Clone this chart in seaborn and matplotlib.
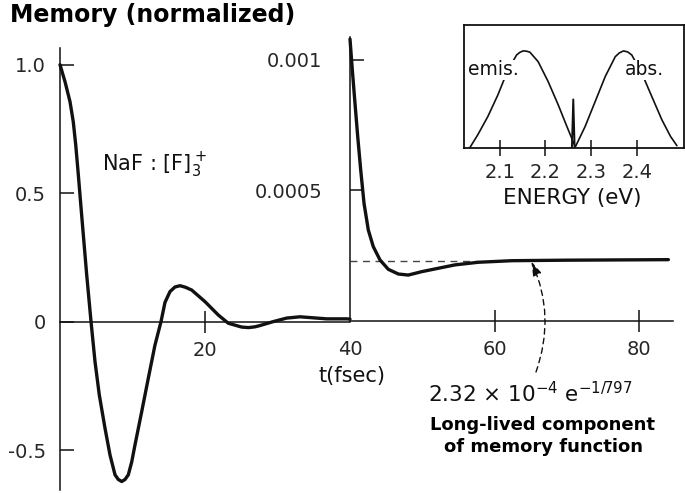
import matplotlib
matplotlib.use('Agg')
import matplotlib.pyplot as plt
import seaborn as sns

# memory function, short-time part (normalized), t in fsec
t_short = [0, 0.69, 1.38, 1.83, 2.17, 2.52, 2.86, 3.21, 3.68, 4.28, 4.83,
           5.42, 6.21, 6.9, 7.59, 8.04, 8.51, 8.97, 9.42, 9.89, 10.34, 11.27,
           12.18, 13.1, 13.93, 14.48, 15.17, 15.86, 16.55, 17.3, 18.17, 20.0,
           21.83, 23.21, 25.06, 26.0, 26.9, 27.59, 29.38, 31.27, 33.1, 35.41,
           36.79, 39.54, 40]
mem_short = [1.0, 0.934, 0.856, 0.778, 0.688, 0.574, 0.458, 0.34, 0.183,
             0.0, -0.156, -0.285, -0.415, -0.519, -0.596, -0.614, -0.622,
             -0.614, -0.596, -0.546, -0.48, -0.35, -0.22, -0.091, 0.0, 0.075,
             0.117, 0.135, 0.14, 0.134, 0.123, 0.078, 0.026, -0.006, -0.021,
             -0.023, -0.020, -0.015, 0.0, 0.014, 0.019, 0.014, 0.011, 0.011,
             0.010]

# long-time part, t >= 40 fsec (expanded scale)
t_long = [40, 40.32, 40.69, 41.07, 41.48, 41.94, 42.53, 43.22, 44.15, 45.3,
          46.69, 48.07, 49.92, 52.22, 54.53, 57.76, 62.38, 70, 84.06]
mem_long = [1.08e-3, 0.962e-3, 0.834e-3, 0.706e-3, 0.579e-3, 0.451e-3,
            0.349e-3, 0.285e-3, 0.234e-3, 0.198e-3, 0.180e-3, 0.176e-3,
            0.189e-3, 0.202e-3, 0.215e-3, 0.225e-3, 0.231e-3, 0.233e-3,
            0.235e-3]
tail_value = 2.28e-4
tail_t = [40, 57.7]

# inset: emission / absorption bands
energy_emis = [2.034, 2.052, 2.074, 2.096, 2.118, 2.137, 2.144, 2.151, 2.158,
               2.166, 2.184, 2.206, 2.228, 2.247, 2.265]
int_emis = [0.0, 0.137, 0.325, 0.548, 0.804, 0.959, 0.985, 1.0, 0.998, 0.987,
            0.89, 0.684, 0.445, 0.222, 0.016]
energy_abs = [2.266, 2.287, 2.309, 2.331, 2.353, 2.362, 2.371, 2.380, 2.389,
              2.411, 2.433, 2.455, 2.474, 2.488]
int_abs = [0.016, 0.222, 0.479, 0.736, 0.941, 0.98, 1.0, 0.99, 0.959, 0.771,
           0.53, 0.291, 0.119, 0.024]
energy_line = [2.258, 2.261, 2.264]
int_line = [0.0, 0.50, 0.0]

left_ticks = [1.0, 0.5, 0, -0.5]
left_ticklabels = ['1.0', '0.5', '0', '-0.5']
right_ticks = [0.001, 0.0005]
right_ticklabels = ['0.001', '0.0005']
t_ticks_short = [20]
t_ticks_long = [40, 60, 80]
energy_ticks = [2.1, 2.2, 2.3, 2.4]

sns.set_theme(style='white')
plt.rcParams['font.family'] = ['DejaVu Sans']

W, H = 685, 493
ink = '#111111'
fig = plt.figure(figsize=(W / 100, H / 100), dpi=100)


def box(x0, y0, x1, y1):
    # pixel box (top-left origin) -> figure fraction rect
    return [x0 / W, 1 - y1 / H, (x1 - x0) / W, (y1 - y0) / H]


ax = fig.add_axes(box(60, 48, 350, 490))
ax2 = fig.add_axes(box(350, 37, 673, 321))
axin = fig.add_axes(box(464, 25, 684, 148))
for a in (ax, ax2):
    a.set_facecolor('none')

# left panel
sns.lineplot(x=t_short, y=mem_short, ax=ax, color=ink, lw=2.4, clip_on=False)
ax.set_xlim(0, 40)
ax.set_ylim(-0.655, 1.065)
ax.spines['top'].set_visible(False)
ax.spines['right'].set_visible(False)
ax.spines['bottom'].set_position(('data', 0))
for s in ('left', 'bottom'):
    ax.spines[s].set_linewidth(1.1)
    ax.spines[s].set_color(ink)
ax.set_yticks(left_ticks, left_ticklabels)
ax.set_xticks(t_ticks_short, ['20'])
ax.tick_params(axis='y', left=True, direction='in', length=10, width=1.1,
               pad=10, labelsize=14, color=ink)
ax.tick_params(axis='x', bottom=True, direction='inout', length=16, width=1.1,
               pad=6, labelsize=14, color=ink)
ax.set_xlabel('')
ax.set_ylabel('')

# right panel
ax2.plot(tail_t, [tail_value] * 2, color='#444444', lw=1.0,
         linestyle=(0, (5, 4)), zorder=1)
sns.lineplot(x=t_long, y=mem_long, ax=ax2, color=ink, lw=2.4, clip_on=False,
             zorder=2)
ax2.set_xlim(40, 84.7)
ax2.set_ylim(0, 0.001088)
ax2.spines['top'].set_visible(False)
ax2.spines['right'].set_visible(False)
for s in ('left', 'bottom'):
    ax2.spines[s].set_linewidth(1.1)
    ax2.spines[s].set_color(ink)
ax2.set_yticks(right_ticks, right_ticklabels)
ax2.set_xticks(t_ticks_long, ['40', '60', '80'])
ax2.tick_params(axis='y', left=True, direction='in', length=10, width=1.1,
                pad=20, labelsize=14, color=ink)
ax2.tick_params(axis='x', bottom=True, direction='inout', length=16, width=1.1,
                pad=6, labelsize=14, color=ink)
ax2.xaxis.get_major_ticks()[0].tick1line.set_visible(False)
ax2.set_xlabel('')
ax2.set_ylabel('')

# inset
sns.lineplot(x=energy_emis, y=int_emis, ax=axin, color=ink, lw=1.2)
sns.lineplot(x=energy_abs, y=int_abs, ax=axin, color=ink, lw=1.2)
sns.lineplot(x=energy_line, y=int_line, ax=axin, color=ink, lw=1.4)
axin.set_xlim(2.0217, 2.5035)
axin.set_ylim(0, 1.267)
for s in axin.spines.values():
    s.set_linewidth(1.3)
    s.set_color(ink)
axin.set_xticks(energy_ticks, ['2.1', '2.2', '2.3', '2.4'])
axin.set_yticks([])
axin.tick_params(axis='x', bottom=True, direction='inout', length=12,
                 width=1.1, pad=5, labelsize=14, color=ink)
axin.set_xlabel('')
axin.set_ylabel('')
axin.text(0.017, 0.635, 'emis.', transform=axin.transAxes, fontsize=13.5,
          ha='left', va='center', color=ink,
          bbox=dict(facecolor='white', edgecolor='none', pad=0.5))
axin.text(0.731, 0.635, 'abs.', transform=axin.transAxes, fontsize=13.5,
          ha='left', va='center', color=ink,
          bbox=dict(facecolor='white', edgecolor='none', pad=0.5))

# text
fig.text(10 / W, 1 - 22 / H, 'Memory (normalized)', fontsize=17,
         fontweight='bold', ha='left', va='baseline', color='black')
fig.text(102 / W, 1 - 165 / H, r'NaF : $[\mathrm{F}]_3^+$', fontsize=15,
         ha='left', va='center', color=ink)
fig.text(352 / W, 1 - 376 / H, 't(fsec)', fontsize=15, ha='center',
         va='center', color=ink)
fig.text(572 / W, 1 - 198 / H, 'ENERGY (eV)', fontsize=15.5, ha='center',
         va='center', color=ink)
fig.text(428 / W, 1 - 402 / H, r'2.32 $\times$ 10$^{-4}$ e$^{-1/797}$',
         fontsize=15.5, ha='left', va='baseline', color=ink)
fig.text(543 / W, 1 - 436 / H, 'Long-lived component\nof memory function',
         fontsize=13, fontweight='bold', ha='center', va='center',
         linespacing=1.35, color='black')

ax2.annotate('', xy=(65.1, tail_value), xycoords='data',
             xytext=(536, H - 372), textcoords='figure pixels',
             arrowprops=dict(arrowstyle='-|>,head_length=0.7,head_width=0.22',
                             linestyle=(0, (4, 3)), lw=1.0, color=ink,
                             shrinkA=0, shrinkB=0,
                             connectionstyle='arc3,rad=0.2'))

fig.savefig('out.png', dpi=100)
